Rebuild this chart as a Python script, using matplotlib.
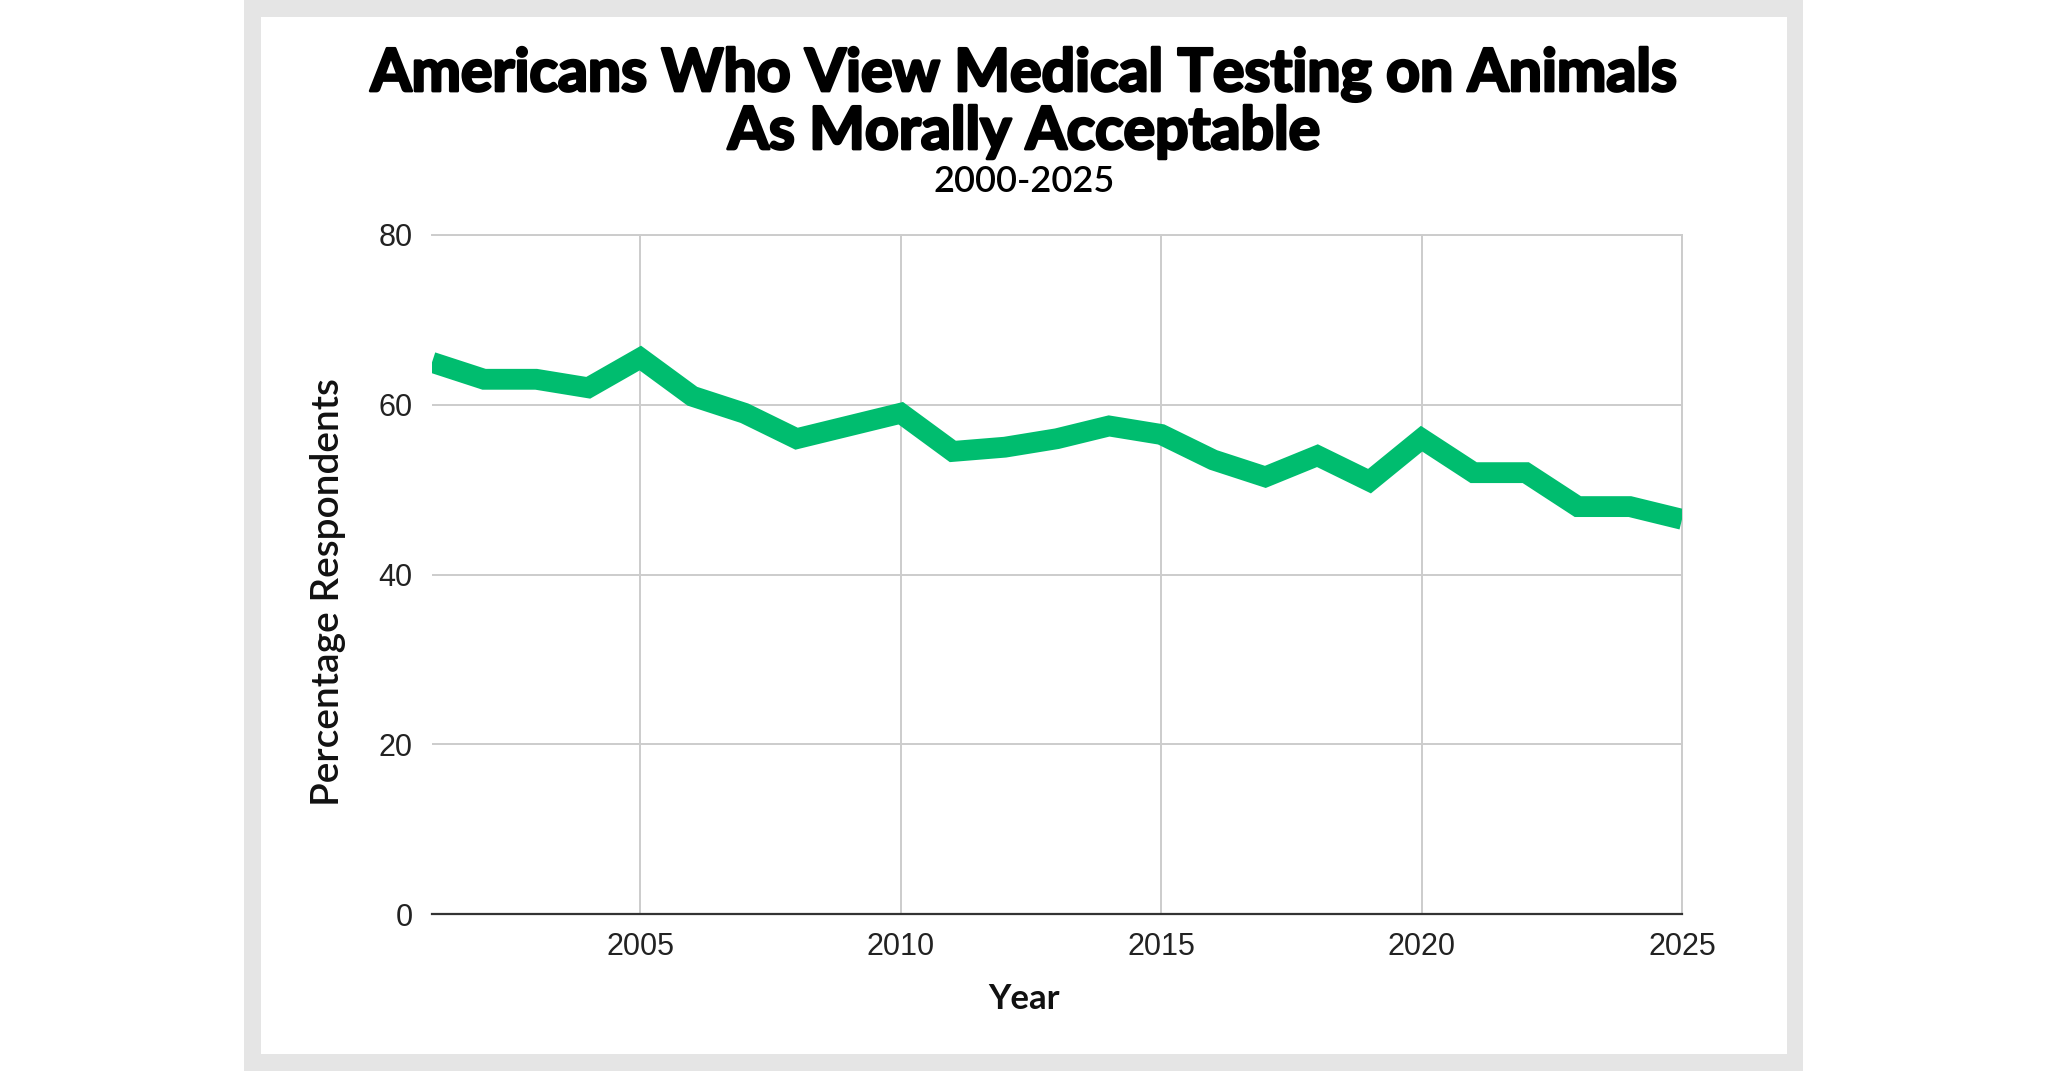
import matplotlib
matplotlib.use("Agg")
import matplotlib.pyplot as plt
import matplotlib.patheffects as pe
from matplotlib.patches import Rectangle

# values
years = list(range(2001, 2026))
pct_acceptable = [65, 63, 63, 62, 65.5, 61, 59, 56, 57.5, 59,
                  54.5, 55, 56, 57.5, 56.5, 53.5, 51.5, 54, 51, 56,
                  52, 52, 48, 48, 46.5]
x_ticks = [2005, 2010, 2015, 2020, 2025]
y_ticks = [0, 20, 40, 60, 80]

title_line1 = "Americans Who View Medical Testing on Animals"
title_line2 = "As Morally Acceptable"
subtitle = "2000-2025"

line_color = "#00bd6f"
grid_color = "#cccccc"

fig = plt.figure(figsize=(20.48, 10.71), dpi=100)
fig.patch.set_facecolor("white")

# grey frame with white card inside
fig.patches.append(Rectangle((244 / 2048, 0), (1803 - 244) / 2048, 1,
                             transform=fig.transFigure, facecolor="#e5e5e5",
                             edgecolor="none", zorder=-10))
fig.patches.append(Rectangle((261 / 2048, 17 / 1071), (1787 - 261) / 2048, (1054 - 17) / 1071,
                             transform=fig.transFigure, facecolor="white",
                             edgecolor="none", zorder=-9))

ax = fig.add_axes([432 / 2048, 1 - 914 / 1071, (1682 - 432) / 2048, (914 - 235) / 1071])
ax.set_facecolor("none")

ax.plot(years, pct_acceptable, color=line_color, linewidth=15,
        solid_capstyle="butt", solid_joinstyle="miter", zorder=3)

ax.set_xlim(2001, 2025)
ax.set_ylim(0, 80)
ax.set_xticks(x_ticks)
ax.set_yticks(y_ticks)
ax.grid(True, color=grid_color, linewidth=1.4)
ax.set_axisbelow(True)

ax.spines["left"].set_visible(False)
for side in ["top", "right"]:
    ax.spines[side].set_color(grid_color)
    ax.spines[side].set_linewidth(1.4)
ax.spines["bottom"].set_color("#333333")
ax.spines["bottom"].set_linewidth(1.6)
ax.spines["bottom"].set_zorder(4)

ax.tick_params(axis="both", length=0, labelsize=22, labelcolor="#222222")
ax.tick_params(axis="y", pad=14)
ax.tick_params(axis="x", pad=13)
for lbl in ax.get_xticklabels() + ax.get_yticklabels():
    lbl.set_fontfamily("Liberation Sans")

# titles (stroke to fake a black weight)
heavy = [pe.withStroke(linewidth=2.0, foreground="black")]
fig.text(0.5, 1 - 91 / 1071, title_line1, ha="center", va="baseline",
         fontsize=42.5, fontfamily="Lato", fontweight="bold", color="black",
         path_effects=heavy)
fig.text(0.5, 1 - 149 / 1071, title_line2, ha="center", va="baseline",
         fontsize=42.5, fontfamily="Lato", fontweight="bold", color="black",
         path_effects=heavy)
fig.text(0.5, 1 - 192 / 1071, subtitle, ha="center", va="baseline",
         fontsize=26, fontfamily="Lato", fontweight="semibold", color="black")

# axis titles
fig.text(0.5, 1 - 999 / 1071, "Year", ha="center", va="center",
         fontsize=25, fontfamily="Lato", fontweight="bold", color="#111111")
fig.text(328 / 2048, 1 - 592 / 1071, "Percentage Respondents", ha="center", va="center",
         rotation=90, fontsize=28, fontfamily="Lato", fontweight="semibold", color="#111111")

fig.savefig("out.png", dpi=100)
